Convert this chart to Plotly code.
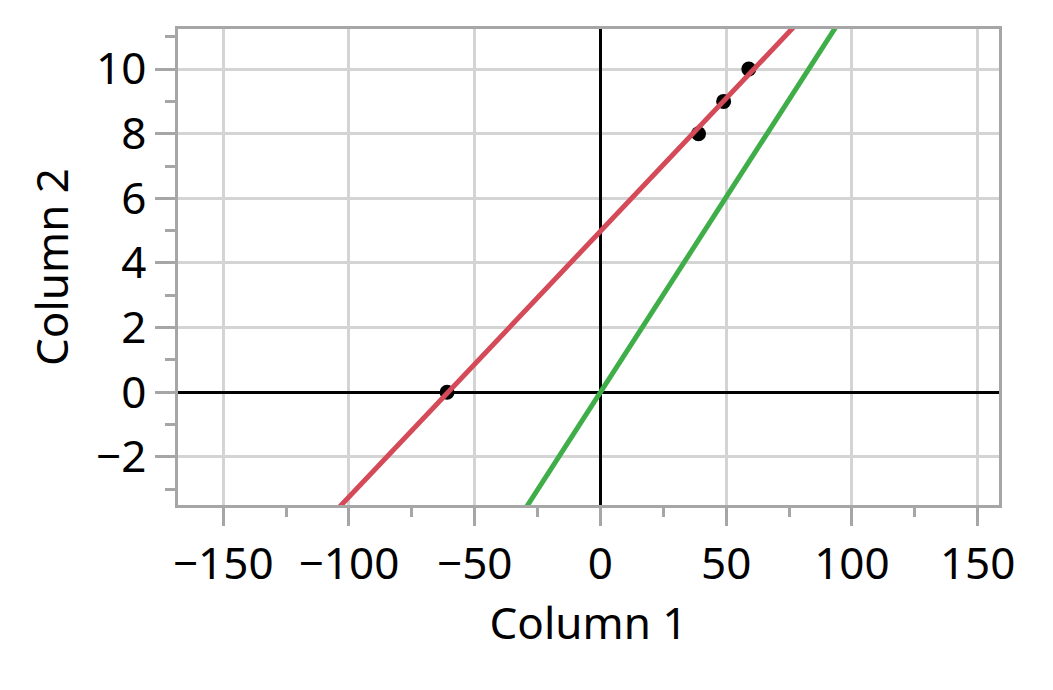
import numpy as np
import plotly.graph_objects as go

# Data
col1 = [-61, 39, 49, 59]
col2 = [0, 8, 9, 10]

x_ticks = [-150, -100, -50, 0, 50, 100, 150]
y_ticks = [-2, 0, 2, 4, 6, 8, 10]

# Fitted lines derived from the data
xa = np.array(col1, dtype=float)
ya = np.array(col2, dtype=float)
slope_lin, icpt_lin = np.polyfit(xa, ya, 1)          # ordinary least squares (red)
slope_orig = float((xa * ya).sum() / (xa * xa).sum())  # fit through origin (green)

line_x = [-200, 200]
red_y = [icpt_lin + slope_lin * v for v in line_x]
green_y = [slope_orig * v for v in line_x]

FONT = "Noto Sans"
GRID = "#d4d4d4"
FRAME = "#a6a6a6"


def fmt(v):
    return ("\u2212" + str(-v)) if v < 0 else str(v)


fig = go.Figure()
fig.add_trace(go.Scatter(x=col1, y=col2, mode="markers",
                         marker=dict(color="black", size=15),
                         showlegend=False, cliponaxis=True))
fig.add_trace(go.Scatter(x=line_x, y=green_y, mode="lines",
                         line=dict(color="#3fae49", width=5), showlegend=False))
fig.add_trace(go.Scatter(x=line_x, y=red_y, mode="lines",
                         line=dict(color="#d44a58", width=5), showlegend=False))

axis_common = dict(
    showline=True, linecolor=FRAME, linewidth=2.5, mirror=True,
    showgrid=True, gridcolor=GRID, gridwidth=2.5,
    zeroline=True, zerolinecolor="black", zerolinewidth=2.5,
    ticks="outside", tickcolor=FRAME, tickwidth=2.5,
    tickfont=dict(family=FONT, size=44, color="black"),
)

fig.update_xaxes(
    **axis_common,
    range=[-168, 158.5],
    tickmode="array", tickvals=x_ticks, ticktext=[fmt(v) for v in x_ticks],
    ticklen=18,
    minor=dict(ticks="outside", ticklen=9, tickcolor=FRAME, tickwidth=2.5, dtick=25, showgrid=False, tick0=0),
    title=dict(text="Column 1", font=dict(family=FONT, size=44, color="black"), standoff=10),
)
fig.update_yaxes(
    **axis_common,
    range=[-3.49, 11.24],
    tickmode="array", tickvals=y_ticks, ticktext=[fmt(v) for v in y_ticks],
    ticklen=20,
    minor=dict(ticks="outside", ticklen=10, tickcolor=FRAME, tickwidth=2.5, dtick=1, showgrid=False, tick0=0),
    title=dict(text="Column 2", font=dict(family=FONT, size=44, color="black"), standoff=14),
)

fig.update_layout(
    width=1053, height=690,
    margin=dict(l=170, r=62, t=21, b=193),
    plot_bgcolor="white", paper_bgcolor="white",
    showlegend=False,
)

fig.write_html("out.html")
